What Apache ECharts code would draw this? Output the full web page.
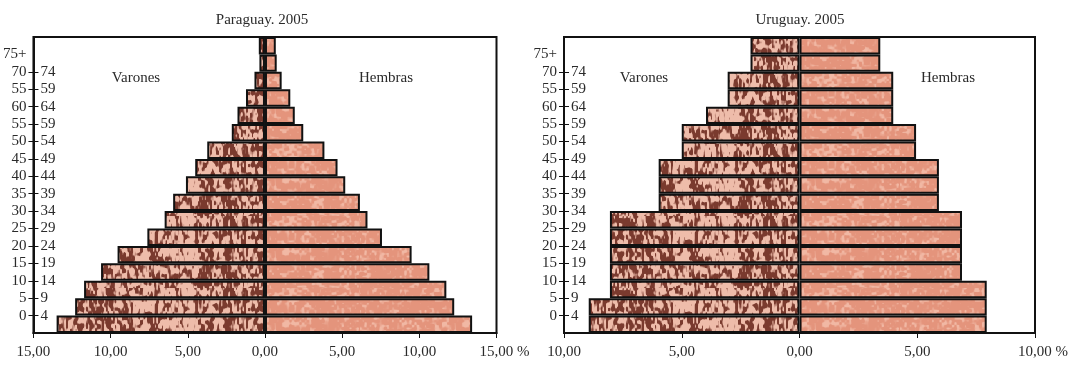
<!DOCTYPE html>
<html>
<head>
<meta charset="utf-8">
<script src="https://cdn.jsdelivr.net/npm/echarts@6/dist/echarts.min.js"></script>
<style>
html,body{margin:0;padding:0;background:#fff;}
#chart{width:1076px;height:367px;}
</style>
</head>
<body>
<div id="chart"></div>
<script>
// ---- data (bottom = youngest, top = oldest) ----
const ageGroups = ['0-4','5-9','10-14','15-19','20-24','25-29','30-34','35-39','40-44','45-49','50-54','55-59','60-64','65-69','70-74','75-79','80+'];
// y tick labels as printed in the source (bottom to top)
const tickLabels = ['0 - 4','5 - 9','10 - 14','15 - 19','20 - 24','25 - 29','30 - 34','35 - 39','40 - 44','45 - 49','50 - 54','55 - 59','60 - 64','55 - 59','70 - 74','75+'];

const paraguayMales   = [13.5, 12.3, 11.72, 10.62, 9.55, 7.62, 6.5, 5.95, 5.12, 4.52, 3.74, 2.15, 1.78, 1.23, 0.68, 0.36, 0.4];
const paraguayFemales = [13.42, 12.26, 11.75, 10.65, 9.5, 7.58, 6.64, 6.15, 5.2, 4.7, 3.85, 2.48, 1.93, 1.64, 1.08, 0.76, 0.7];
const uruguayMales    = [8.95, 8.95, 8.05, 8.05, 8.05, 8.05, 8.05, 5.98, 5.98, 5.98, 5.0, 5.0, 3.97, 3.05, 3.05, 2.08, 2.08];
const uruguayFemales  = [7.95, 7.95, 7.95, 6.9, 6.9, 6.9, 6.9, 5.92, 5.92, 5.92, 4.95, 4.95, 3.98, 3.98, 3.98, 3.43, 3.43];

const titles = ['Paraguay. 2005', 'Uruguay. 2005'];
const sexLabels = ['Varones', 'Hembras'];

// ---- textures (deterministic noise) ----
function hash(i, j, seed) {
  const s = Math.sin(i * 127.1 + j * 311.7 + seed * 74.7) * 43758.5453;
  return s - Math.floor(s);
}
function vnoise(x, y, seed) {
  const xi = Math.floor(x), yi = Math.floor(y);
  const xf = x - xi, yf = y - yi;
  const u = xf * xf * (3 - 2 * xf), v = yf * yf * (3 - 2 * yf);
  const a = hash(xi, yi, seed), b = hash(xi + 1, yi, seed);
  const c = hash(xi, yi + 1, seed), d = hash(xi + 1, yi + 1, seed);
  return a + (b - a) * u + (c - a) * v + (a - b - c + d) * u * v;
}
function smooth(e0, e1, x) {
  const t = Math.max(0, Math.min(1, (x - e0) / (e1 - e0)));
  return t * t * (3 - 2 * t);
}
function makeTexture(kind) {
  const W = 180, H = 72;
  const cv = document.createElement('canvas');
  cv.width = W; cv.height = H;
  const ctx = cv.getContext('2d');
  const img = ctx.createImageData(W, H);
  for (let y = 0; y < H; y++) {
    for (let x = 0; x < W; x++) {
      let r, g, b;
      if (kind === 'male') {
        const n = 0.45 * vnoise(x / 1.8, y / 4.2, 1) + 0.3 * vnoise(x / 4, y / 9, 2) + 0.25 * vnoise(x / 9, 0.5, 3);
        const t = smooth(0.44, 0.58, n);
        const base = [238, 188, 170], dark = [122, 58, 46];
        r = base[0] + (dark[0] - base[0]) * t;
        g = base[1] + (dark[1] - base[1]) * t;
        b = base[2] + (dark[2] - base[2]) * t;
      } else {
        const n = 0.6 * vnoise(x / 2.5, y / 2.5, 5) + 0.4 * vnoise(x / 7, y / 7, 6);
        const t = smooth(0.5, 0.8, n);
        const base = [228, 148, 124], light = [241, 184, 164];
        r = base[0] + (light[0] - base[0]) * t;
        g = base[1] + (light[1] - base[1]) * t;
        b = base[2] + (light[2] - base[2]) * t;
      }
      const k = (y * W + x) * 4;
      img.data[k] = r; img.data[k + 1] = g; img.data[k + 2] = b; img.data[k + 3] = 255;
    }
  }
  ctx.putImageData(img, 0, 0);
  return cv;
}
const maleFill = { image: makeTexture('male'), repeat: 'repeat' };
const femaleFill = { image: makeTexture('female'), repeat: 'repeat' };

// ---- chart ----
const FONT = '"Liberation Serif", "Times New Roman", serif';
const TXT = '#2a2a2a';
const labelValues = tickLabels.map((_, i) => i + 1);
const tickValues = labelValues.slice(0, labelValues.length - 1);

function leftPart(v) {
  const s = tickLabels[v - 1];
  if (!s) return '';
  return s.indexOf(' - ') >= 0 ? s.split(' - ')[0] : s;
}
function rightPart(v) {
  const s = tickLabels[v - 1];
  if (!s) return '';
  return s.indexOf(' - ') >= 0 ? s.split(' - ')[1] : '';
}

const grids = [
  { left: 27.5, top: 37, width: 469, height: 296 },
  { left: 564, top: 37, width: 471, height: 296 }
];
const xMax = [15, 10];

const option = {
  animation: false,
  backgroundColor: '#fff',
  grid: grids.map(g => Object.assign({ show: true, borderColor: '#111', borderWidth: 2, backgroundColor: 'transparent', containLabel: false }, g)),
  xAxis: xMax.map((m, gi) => ({
    gridIndex: gi, type: 'value', min: -m, max: m, interval: 5,
    axisLine: { show: true, lineStyle: { color: '#111', width: 2 } },
    axisTick: { show: true, length: 5, lineStyle: { color: '#111', width: 1 } },
    splitLine: { show: false },
    axisLabel: {
      show: true, showMinLabel: true, showMaxLabel: true,
      fontFamily: FONT, fontSize: 15, color: TXT, margin: 12,
      formatter: function (v) {
        const s = Math.abs(v).toFixed(2).replace('.', ',');
        return v === m ? '{pad|}' + s + ' %' : s;
      },
      rich: { pad: { width: 16 } }
    }
  })),
  yAxis: [],
  series: [],
  graphic: []
};

[0, 1].forEach(gi => {
  const base = option.yAxis.length;
  option.yAxis.push({
    gridIndex: gi, type: 'category', data: ageGroups, show: false
  });
  option.yAxis.push({
    gridIndex: gi, type: 'value', min: 0, max: ageGroups.length, position: 'left',
    axisLine: { show: true, lineStyle: { color: '#111', width: 2 } },
    axisTick: { show: true, inside: false, length: 5, customValues: tickValues, lineStyle: { color: '#111', width: 1 } },
    splitLine: { show: false },
    axisLabel: { show: true, customValues: labelValues, formatter: leftPart, fontFamily: FONT, fontSize: 15, color: TXT, margin: 7 }
  });
  option.yAxis.push({
    gridIndex: gi, type: 'value', min: 0, max: ageGroups.length, position: 'left',
    axisLine: { show: false },
    axisTick: { show: true, inside: true, length: 5, customValues: tickValues, lineStyle: { color: '#111', width: 1 } },
    splitLine: { show: false },
    axisLabel: { show: true, inside: true, customValues: labelValues, formatter: rightPart, fontFamily: FONT, fontSize: 15, color: TXT, margin: 7 }
  });
  const males = gi === 0 ? paraguayMales : uruguayMales;
  const females = gi === 0 ? paraguayFemales : uruguayFemales;
  option.series.push({
    type: 'bar', name: sexLabels[0], xAxisIndex: gi, yAxisIndex: base,
    data: males.map(v => -v), barCategoryGap: '0%', barGap: '-100%',
    itemStyle: { color: maleFill, borderColor: '#111', borderWidth: 2 }
  });
  option.series.push({
    type: 'bar', name: sexLabels[1], xAxisIndex: gi, yAxisIndex: base,
    data: females, barCategoryGap: '0%', barGap: '-100%',
    itemStyle: { color: femaleFill, borderColor: '#111', borderWidth: 2 }
  });
});

// titles and sex labels
const titleX = [262, 800];
const varX = [136, 644];
const hemX = [386, 948];
[0, 1].forEach(gi => {
  option.graphic.push({ type: 'text', x: titleX[gi], y: 20, style: { text: titles[gi], font: '15px ' + FONT, fill: TXT, textAlign: 'center', textVerticalAlign: 'middle' } });
  option.graphic.push({ type: 'text', x: varX[gi], y: 78, style: { text: sexLabels[0], font: '15px ' + FONT, fill: TXT, textAlign: 'center', textVerticalAlign: 'middle' } });
  option.graphic.push({ type: 'text', x: hemX[gi], y: 78, style: { text: sexLabels[1], font: '15px ' + FONT, fill: TXT, textAlign: 'center', textVerticalAlign: 'middle' } });
});

const chart = echarts.init(document.getElementById('chart'), null, { renderer: 'canvas' });
chart.setOption(option);
</script>
</body>
</html>
